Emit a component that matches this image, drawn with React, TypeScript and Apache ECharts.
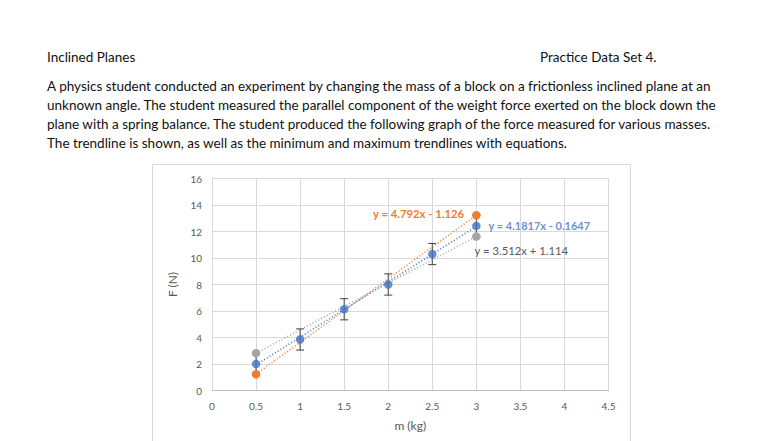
import React, { useEffect, useRef } from "react";
import * as echarts from "echarts";

const massKg = [0.5, 1, 1.5, 2, 2.5, 3];
const forceN = [2.0, 3.85, 6.13, 8.0, 10.3, 12.42];
const errorN = [0.8, 0.8, 0.8, 0.8, 0.8, 0.8];

const lineX = [0.5, 3];
const bestLineY = [1.93, 12.38];
const maxLineY = [1.23, 13.23];
const minLineY = [2.82, 11.62];

const bestEq = "y = 4.1817x - 0.1647";
const maxEq = "y = 4.792x - 1.126";
const minEq = "y = 3.512x + 1.114";

const xTitle = "m (kg)";
const yTitle = "F (N)";

const headingLeft = "Inclined Planes";
const headingRight = "Practice Data Set 4.";
const paragraph = [
  "A physics student conducted an experiment by changing the mass of a block on a frictionless inclined plane at an",
  "unknown angle. The student measured the parallel component of the weight force exerted on the block down the",
  "plane with a spring balance. The student produced the following graph of the force measured for various masses.",
  "The trendline is shown, as well as the minimum and maximum trendlines with equations.",
];

const BLUE = "#4472C4";
const ORANGE = "#ED7D31";
const GREY = "#A5A5A5";
const FONT = "Lato, 'Open Sans', sans-serif";

export default function App() {
  const ref = useRef<HTMLDivElement>(null);
  useEffect(() => {
    document.body.style.margin = "0";
    const chart = echarts.init(ref.current!, null, { renderer: "svg" });
    const pts = (ys: number[]) => lineX.map((x, i) => [x, ys[i]]);
    const dotted = { type: [1, 2.2], width: 1.6, cap: "butt" as const };
    const textEls: any[] = [
      { type: "text", left: 47, top: 50, style: { text: headingLeft, font: `13.5px ${FONT}`, fill: "#111" } },
      { type: "text", left: 540, top: 50, style: { text: headingRight, font: `13.5px ${FONT}`, fill: "#111" } },
      ...paragraph.map((t, i) => ({
        type: "text",
        left: 47,
        top: 79 + i * 19,
        style: { text: t, font: `13.5px ${FONT}`, fill: "#111" },
      })),
      {
        type: "rect",
        shape: { x: 152.5, y: 164.5, width: 478, height: 300 },
        style: { fill: "none", stroke: "#D9D9D9", lineWidth: 1 },
        z: -1,
      },
    ];
    chart.setOption({
      animation: false,
      textStyle: { fontFamily: FONT },
      graphic: textEls,
      grid: { left: 212, right: 175.5, top: 178.5, bottom: 50.5 },
      xAxis: {
        type: "value",
        min: 0,
        max: 4.5,
        interval: 0.5,
        name: xTitle,
        nameLocation: "middle",
        nameGap: 29,
        nameTextStyle: { color: "#595959", fontSize: 12, fontFamily: FONT },
        axisLine: { show: true, lineStyle: { color: "#BFBFBF" } },
        axisTick: { show: false },
        axisLabel: { color: "#595959", fontSize: 10, margin: 10, fontFamily: FONT },
        splitLine: { show: true, lineStyle: { color: "#D9D9D9" } },
      },
      yAxis: {
        type: "value",
        min: 0,
        max: 16,
        interval: 2,
        name: yTitle,
        nameLocation: "middle",
        nameGap: 34,
        nameRotate: 90,
        nameTextStyle: { color: "#595959", fontSize: 12, fontFamily: FONT },
        axisLine: { show: true, lineStyle: { color: "#D9D9D9" } },
        axisTick: { show: false },
        axisLabel: { color: "#595959", fontSize: 10, margin: 10, fontFamily: FONT },
        splitLine: { show: true, lineStyle: { color: "#D9D9D9" } },
      },
      series: [
        {
          type: "custom",
          z: 1,
          data: massKg.map((x, i) => [x, forceN[i], errorN[i]]),
          renderItem: (params: any, api: any) => {
            const x = api.value(0);
            const y = api.value(1);
            const e = api.value(2);
            const top = api.coord([x, y + e]);
            const bot = api.coord([x, y - e]);
            const st = { stroke: "#404040", lineWidth: 1 };
            return {
              type: "group",
              children: [
                { type: "line", shape: { x1: top[0], y1: top[1], x2: bot[0], y2: bot[1] }, style: st },
                { type: "line", shape: { x1: top[0] - 4, y1: top[1], x2: top[0] + 4, y2: top[1] }, style: st },
                { type: "line", shape: { x1: bot[0] - 4, y1: bot[1], x2: bot[0] + 4, y2: bot[1] }, style: st },
              ],
            };
          },
        },
        {
          type: "line",
          z: 2,
          data: pts(bestLineY),
          showSymbol: false,
          lineStyle: { color: BLUE, ...dotted },
          silent: true,
        },
        {
          type: "line",
          z: 3,
          data: pts(maxLineY),
          symbol: "circle",
          symbolSize: 8.5,
          itemStyle: { color: ORANGE },
          lineStyle: { color: ORANGE, ...dotted },
          label: {
            show: true,
            position: "left",
            distance: 8,
            offset: [0, -2],
            color: ORANGE,
            fontWeight: "bold",
            fontSize: 11.3,
            fontFamily: FONT,
            formatter: (p: any) => (p.dataIndex === 1 ? maxEq : ""),
          },
        },
        {
          type: "line",
          z: 3,
          data: pts(minLineY),
          symbol: "circle",
          symbolSize: 8.5,
          itemStyle: { color: GREY },
          lineStyle: { color: GREY, ...dotted },
          label: {
            show: true,
            position: "right",
            distance: 0,
            offset: [-6, 14],
            color: "#595959",
            fontSize: 11.3,
            fontFamily: FONT,
            formatter: (p: any) => (p.dataIndex === 1 ? minEq : ""),
          },
        },
        {
          type: "scatter",
          z: 4,
          data: massKg.map((x, i) => [x, forceN[i]]),
          symbol: "circle",
          symbolSize: 8.5,
          itemStyle: { color: BLUE },
          label: {
            show: true,
            position: "right",
            distance: 8,
            color: BLUE,
            fontWeight: "bold",
            fontSize: 11,
            fontFamily: FONT,
            formatter: (p: any) => (p.dataIndex === massKg.length - 1 ? bestEq : ""),
          },
        },
      ],
    });
    return () => chart.dispose();
  }, []);
  return <div ref={ref} style={{ width: 784, height: 441 }} />;
}
